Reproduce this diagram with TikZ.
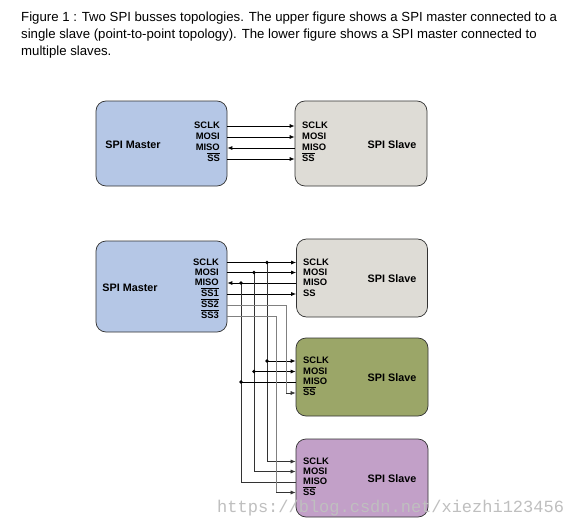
\documentclass[tikz,border=0pt]{standalone}
\usepackage{fontspec}
\setmainfont{Liberation Sans}
\newfontfamily\wmfont{Liberation Mono}
\usetikzlibrary{arrows.meta}
\definecolor{masterblue}{RGB}{181,199,230}
\definecolor{slavegray}{RGB}{222,220,214}
\definecolor{slavegreen}{RGB}{155,166,104}
\definecolor{slavepurple}{RGB}{194,160,200}
\definecolor{boxline}{RGB}{50,50,50}
\newcommand{\ovl}[1]{$\overline{\mbox{#1}}$}
\begin{document}
\begin{tikzpicture}[x=1pt,y=-1pt,
  box/.style={draw=boxline, line width=0.7pt, rounded corners=10pt, inner sep=0pt},
  port/.style={font=\bfseries\fontsize{9.4}{9.4}\selectfont, inner sep=0pt},
  title/.style={font=\bfseries\fontsize{10.8}{11}\selectfont, inner sep=0pt},
  captext/.style={anchor=base west, inner sep=0pt, font=\fontsize{13.2}{15}\selectfont},
  sig/.style={line width=0.75pt, black},
  bus/.style={line width=0.6pt, black!80},
  sel/.style={line width=0.6pt, black!50},
  tip/.style={-{Latex[length=5pt,width=4pt]}},
  tipback/.style={{Latex[length=5pt,width=4pt]}-},
  jdot/.style={circle, fill=black, inner sep=0pt, minimum size=3.6pt},
  wm/.style={inner sep=0pt, font=\wmfont\fontsize{17}{17}\selectfont}]
\fill[white] (0,0) rectangle (571,522);
\useasboundingbox (0,0) rectangle (571,522);

% caption
\node[captext] (cap1) at (21,21) {Figure 1 : Two SPI busses topologies. The upper figure shows a SPI master connected to a};
\node[captext] (cap2) at (21,38.5) {single slave (point-to-point topology). The lower figure shows a SPI master connected to};
\node[captext] (cap3) at (21,56) {multiple slaves.};

% ---------- upper figure ----------
\node[box, fill=masterblue, minimum width=131pt, minimum height=85pt] (M1) at (161.5,143.5) {};
\node[box, fill=slavegray, minimum width=132pt, minimum height=85pt] (S1) at (361,143.5) {};
\node[title] (M1t) at (133,145) {SPI Master};
\node[title] (S1t) at (392,145) {SPI Slave};
\node[port, anchor=mid east] (m1a) at (220,126) {SCLK};
\node[port, anchor=mid east] (m1b) at (220,137) {MOSI};
\node[port, anchor=mid east] (m1c) at (220,148) {MISO};
\node[port, anchor=mid east] (m1d) at (220,159) {\ovl{SS}};
\node[port, anchor=mid west] (s1a) at (302,126) {SCLK};
\node[port, anchor=mid west] (s1b) at (302,137) {MOSI};
\node[port, anchor=mid west] (s1c) at (302,148) {MISO};
\node[port, anchor=mid west] (s1d) at (302,159) {\ovl{SS}};
\draw[sig, tip] (M1.east |- m1a.mid east) -- (S1.west |- s1a.mid west);
\draw[sig, tip] (M1.east |- m1b.mid east) -- (S1.west |- s1b.mid west);
\draw[sig, tipback] (M1.east |- m1c.mid east) -- (S1.west |- s1c.mid west);
\draw[sig, tip] (M1.east |- m1d.mid east) -- (S1.west |- s1d.mid west);

% ---------- lower figure ----------
\node[box, fill=masterblue, minimum width=131pt, minimum height=91pt] (M2) at (161.5,286.5) {};
\node[box, fill=slavegray, minimum width=131pt, minimum height=78pt] (SA) at (362,278) {};
\node[box, fill=slavegreen, minimum width=132pt, minimum height=78pt] (SB) at (362,377) {};
\node[box, fill=slavepurple, minimum width=132pt, minimum height=78pt] (SC) at (362,478) {};
\node[title] (M2t) at (130,288) {SPI Master};
\node[title] (SAt) at (392,279) {SPI Slave};
\node[title] (SBt) at (392,378) {SPI Slave};
\node[title] (SCt) at (392,479) {SPI Slave};

\node[port, anchor=mid east] (m2a) at (219,262.5) {SCLK};
\node[port, anchor=mid east] (m2b) at (219,272.5) {MOSI};
\node[port, anchor=mid east] (m2c) at (219,283) {MISO};
\node[port, anchor=mid east] (m2d) at (219,294) {\ovl{SS1}};
\node[port, anchor=mid east] (m2e) at (219,305) {\ovl{SS2}};
\node[port, anchor=mid east] (m2f) at (219,316) {\ovl{SS3}};

\node[port, anchor=mid west] (sAa) at (303,262.5) {SCLK};
\node[port, anchor=mid west] (sAb) at (303,272.5) {MOSI};
\node[port, anchor=mid west] (sAc) at (303,283) {MISO};
\node[port, anchor=mid west] (sAd) at (303,294) {SS};

\node[port, anchor=mid west] (sBa) at (303,361) {SCLK};
\node[port, anchor=mid west] (sBb) at (303,371.5) {MOSI};
\node[port, anchor=mid west] (sBc) at (303,382) {MISO};
\node[port, anchor=mid west] (sBd) at (303,393) {\ovl{SS}};

\node[port, anchor=mid west] (sCa) at (303,461.5) {SCLK};
\node[port, anchor=mid west] (sCb) at (303,471.5) {MOSI};
\node[port, anchor=mid west] (sCc) at (303,482) {MISO};
\node[port, anchor=mid west] (sCd) at (303,492.5) {\ovl{SS}};

% x positions of the shared lines
\coordinate (jA1) at (267,0);
\coordinate (jA2) at (254,0);
\coordinate (jA3) at (241,0);
\coordinate (xS2) at (286,0);
\coordinate (xS3) at (276,0);

% slave 1 (direct)
\draw[sig, tip] (M2.east |- m2a.mid east) -- (SA.west |- sAa.mid west);
\draw[sig, tip] (M2.east |- m2b.mid east) -- (SA.west |- sAb.mid west);
\draw[sig, tipback] (M2.east |- m2c.mid east) -- (SA.west |- sAc.mid west);
\draw[sig, tip] (M2.east |- m2d.mid east) -- (SA.west |- sAd.mid west);

% vertical buses
\draw[bus, tip] (jA1 |- m2a.mid east) |- (SC.west |- sCa.mid west);
\draw[bus, tip] (jA2 |- m2b.mid east) |- (SC.west |- sCb.mid west);
\draw[bus] (jA3 |- m2c.mid east) |- (SC.west |- sCc.mid west);

% slave 2 branches
\draw[sig, tip] (jA1 |- sBa.mid west) -- (SB.west |- sBa.mid west);
\draw[sig, tip] (jA2 |- sBb.mid west) -- (SB.west |- sBb.mid west);
\draw[sig] (jA3 |- sBc.mid west) -- (SB.west |- sBc.mid west);

% slave selects 2 and 3
\draw[sel] (M2.east |- m2e.mid east) -| (xS2 |- sBd.mid west);
\draw[bus, tip] (xS2 |- sBd.mid west) -- (SB.west |- sBd.mid west);
\draw[sel] (M2.east |- m2f.mid east) -| (xS3 |- sCd.mid west);
\draw[bus, tip] (xS3 |- sCd.mid west) -- (SC.west |- sCd.mid west);

% junction dots
\node[jdot] (d1) at (jA1 |- m2a.mid east) {};
\node[jdot] (d2) at (jA2 |- m2b.mid east) {};
\node[jdot] (d3) at (jA3 |- m2c.mid east) {};
\node[jdot] (d4) at (jA1 |- sBa.mid west) {};
\node[jdot] (d5) at (jA2 |- sBb.mid west) {};
\node[jdot] (d6) at (jA3 |- sBc.mid west) {};

% watermark
\node[wm, text=black!25, anchor=base west] (wm2) at (217,512) {https://blog.csdn.net/xiezhi123456};
\end{tikzpicture}
\end{document}
